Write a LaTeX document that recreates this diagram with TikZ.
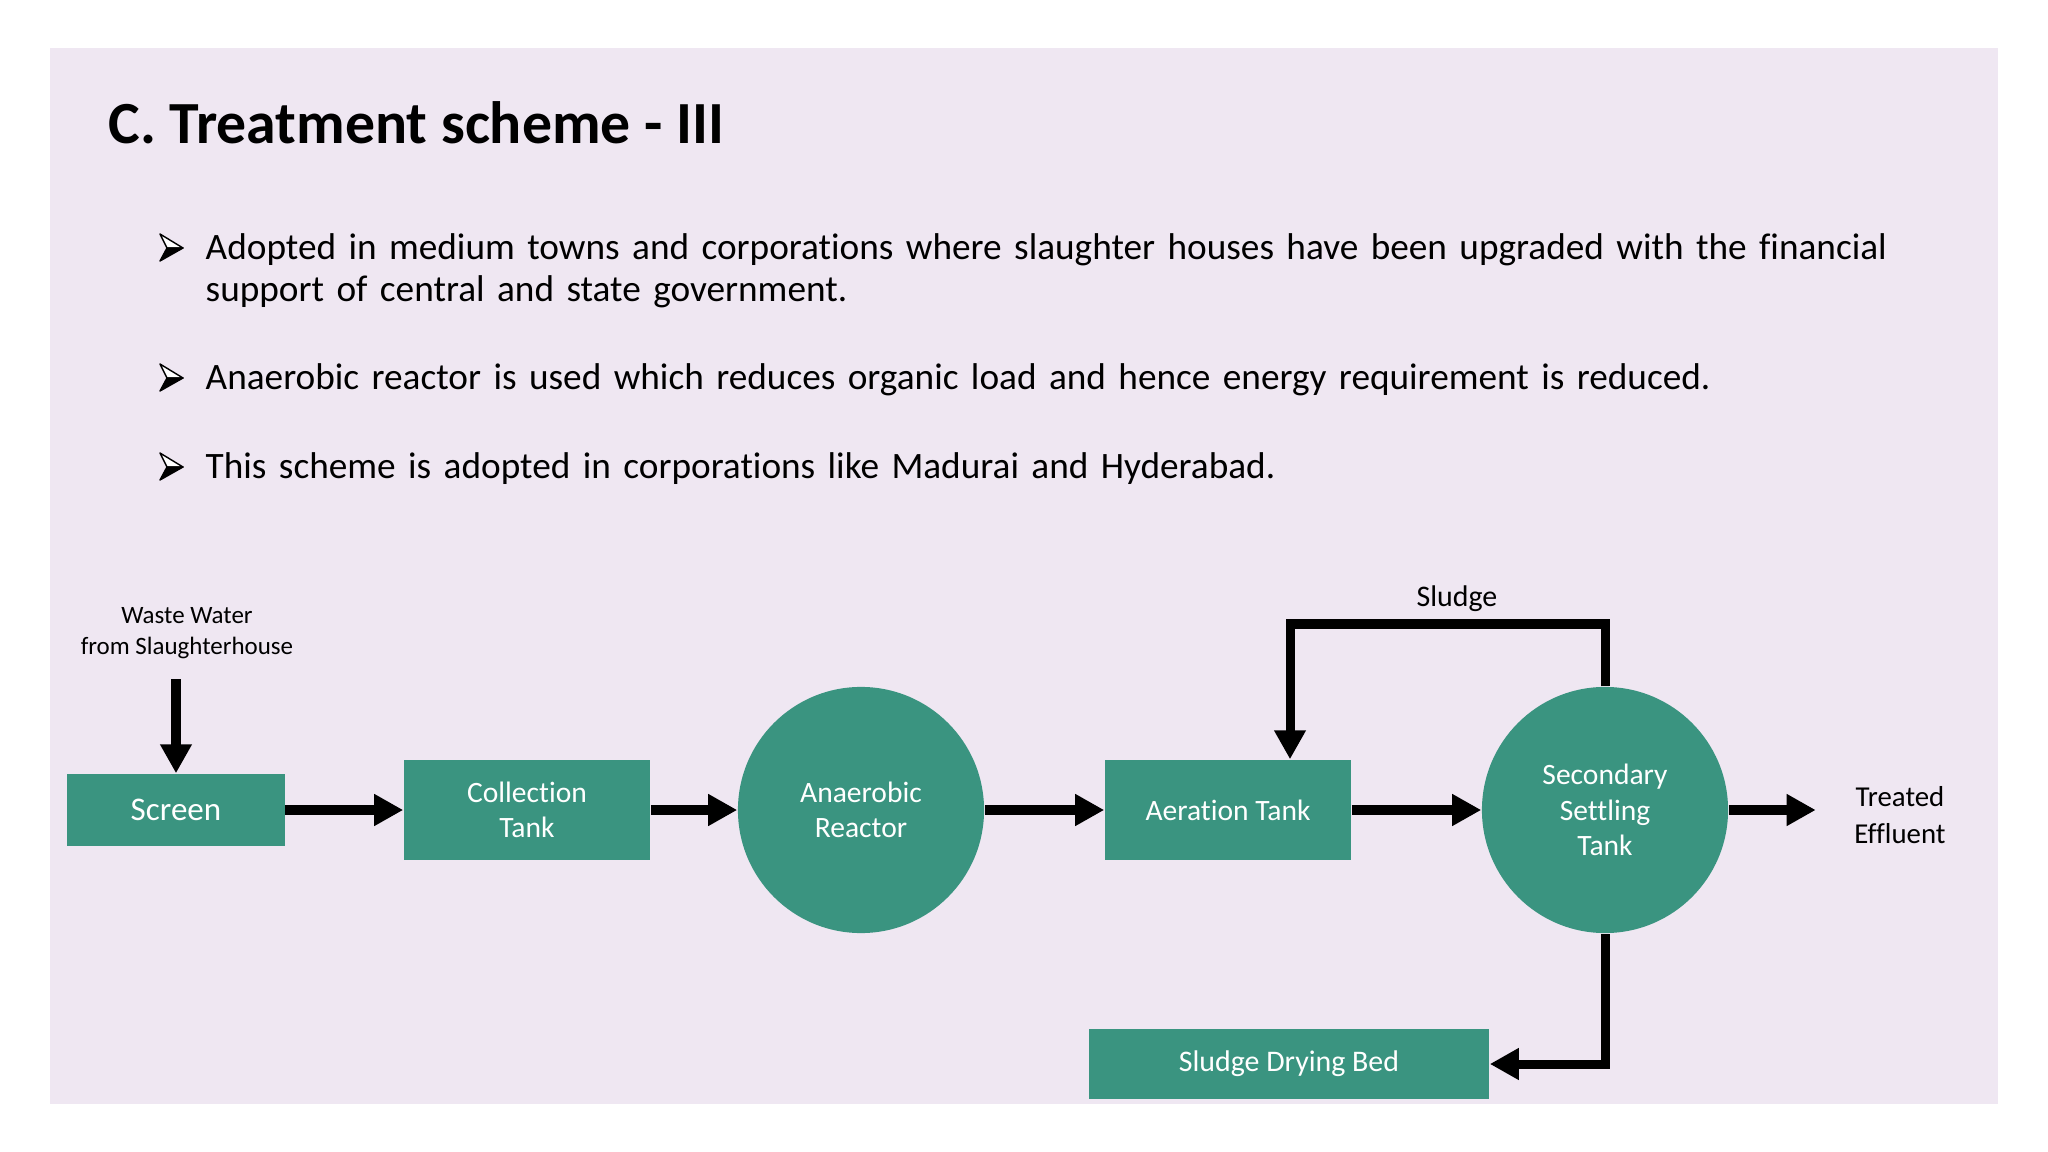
\documentclass[tikz,border=0pt]{standalone}
\usepackage{fontspec}
\setmainfont{Carlito}[Ligatures=NoCommon]
\usetikzlibrary{arrows.meta, positioning}

\definecolor{slidebg}{RGB}{239,231,242}
\definecolor{unitgreen}{RGB}{58,148,128}

\begin{document}
\begin{tikzpicture}[x=0.01cm, y=-0.01cm, >={Triangle[length=0.29cm, width=0.3cm]},
  every node/.style={inner sep=0pt},
  unit/.style={fill=unitgreen, text=white, font=\fontsize{8.4}{10}\selectfont, align=center},
  box/.style={unit, rectangle, minimum width=2.46cm, minimum height=1cm},
  tank/.style={unit, circle, minimum size=2.46cm},
  flow/.style={->, line width=0.09cm},
  bullet/.style={anchor=base west, text width=17.6cm, align=left, font=\fontsize{10.6}{11.7}\selectfont},
  arrowbullet/.pic={
    \filldraw[fill=white, line width=0.4pt, line join=round] (12,0) -- (-11,-14) -- (-4,0) -- cycle;
    \filldraw[line width=0.4pt, line join=round] (12,0) -- (-4,0) -- (-11,13) -- cycle;
  }]
\useasboundingbox (0,0) rectangle (2048,1152);
% slide
\fill[white] (0,0) rectangle (2048,1152);
\fill[slidebg] (50,48) rectangle (1998,1104);
% title and bullets
\node[anchor=base west, font=\fontsize{17}{20}\selectfont\bfseries] (title) at (108,144) {C. Treatment scheme - III};
\pic at (171,248) {arrowbullet};
\pic at (171,378) {arrowbullet};
\pic at (171,467) {arrowbullet};
\node[bullet] (b1) at (205,260) {Adopted in medium towns and corporations where slaughter houses have been upgraded with the financial\\support of central and state government.};
\node[bullet] (b2) at (205,390) {Anaerobic reactor is used which reduces organic load and hence energy requirement is reduced.};
\node[bullet] (b3) at (205,479) {This scheme is adopted in corporations like Madurai and Hyderabad.};
% treatment units
\node[box, minimum width=2.17cm, minimum height=0.72cm, font=\fontsize{9.4}{11}\selectfont] (screen) at (176,810) {Screen};
\node[box, minimum height=0.99cm] (coll) at (527,810) {Collection\\Tank};
\node[tank] (anr) at (861,810) {Anaerobic\\Reactor};
\node[box] (aer) at (1228,810) {Aeration Tank};
\node[tank] (sst) at (1605,810) {Secondary\\Settling\\Tank};
\node[box, minimum width=4cm, minimum height=0.69cm, font=\fontsize{8.5}{10}\selectfont] (bed) at (1289,1064) {Sludge Drying Bed};
% in and out
\node[align=center, font=\fontsize{7.1}{8.8}\selectfont] (ww) at (187,633) {Waste Water\\from Slaughterhouse};
\node[align=center, font=\fontsize{8.2}{10.4}\selectfont] (eff) at (1900,815) {Treated\\Effluent};
\coordinate (ret) at (1290,624);
% flow lines
\draw[flow, shorten <=0.2cm] (ww.south -| screen.north) -- (screen.north);
\draw[flow] (screen) -- (coll);
\draw[flow] (coll) -- (anr);
\draw[flow] (anr) -- (aer);
\draw[flow] (aer) -- (sst);
\draw[flow, shorten >=0.38cm] (sst.east) -- (sst.east -| eff.west);
\draw[flow] (sst.north) |- (ret) node[pos=0.735, above=0.08cm, font=\fontsize{8.5}{10}\selectfont] (sl) {Sludge} -- (ret |- aer.north);
\draw[flow] (sst.south) |- (bed.east);
\end{tikzpicture}
\end{document}
